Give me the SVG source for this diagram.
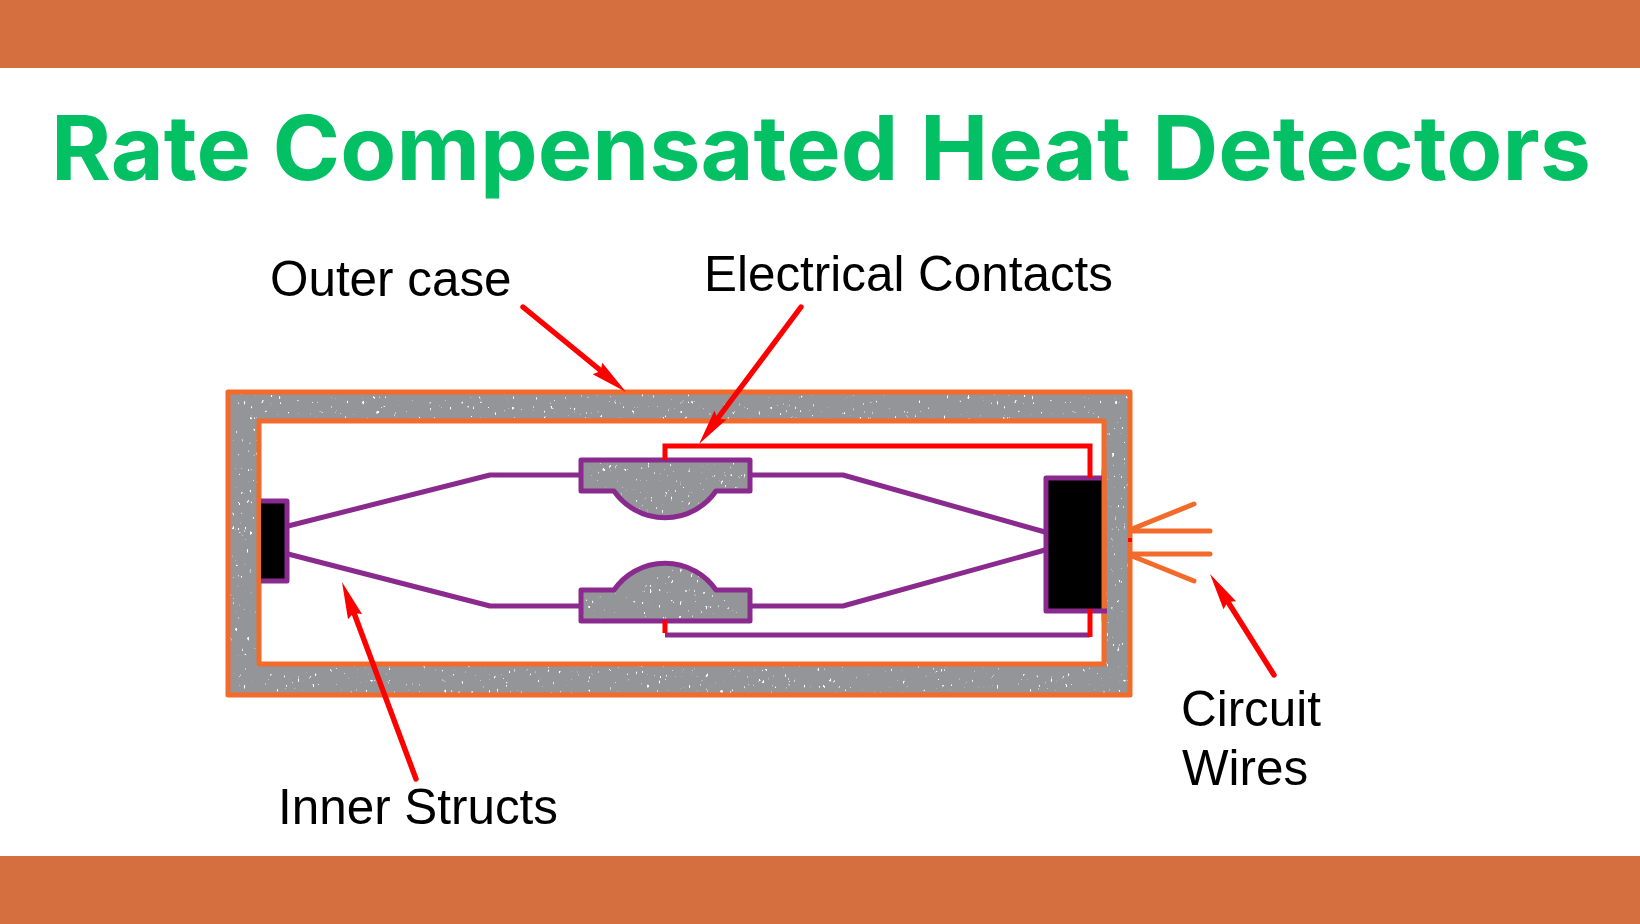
<svg xmlns="http://www.w3.org/2000/svg" width="1640" height="924" viewBox="0 0 1640 924">
<style>
.lbl{font-family:"Liberation Sans",Arial,sans-serif;font-size:49.4px;fill:#000}
.org{fill:none;stroke:#f26b2a;stroke-width:5;stroke-linecap:round;stroke-linejoin:round}
.pur{fill:none;stroke:#8a2a8e;stroke-width:5;stroke-linejoin:round}
.gf{fill:#939598;stroke:none;filter:url(#speck)}
.red{fill:none;stroke:#fe0000;stroke-width:5;stroke-linejoin:miter}
.ptr{stroke:#fe0000;stroke-width:5.4;stroke-linecap:round;fill:none}
.head{fill:#fe0000}
</style>
<defs>
<filter id="speck" x="-2%" y="-2%" width="104%" height="104%" color-interpolation-filters="sRGB">
<feTurbulence type="fractalNoise" baseFrequency="0.34 0.19" numOctaves="2" seed="7" result="n"/>
<feColorMatrix in="n" type="matrix" values="0 0 0 0 1  0 0 0 0 1  0 0 0 0 1  13 0 0 0 -9.3" result="w"/>
<feComposite in="w" in2="SourceAlpha" operator="in" result="flecks"/>
<feMerge><feMergeNode in="SourceGraphic"/><feMergeNode in="flecks"/></feMerge>
</filter>
<path id="shape-top" d="M581 460H750V491H716A62 62 0 0 1 614 491H581Z"/>
<path id="shape-bottom" d="M581 621H750V590H716A62 62 0 0 0 614 590H581Z"/>
</defs>
<rect id="bar-top" x="0" y="0" width="1640" height="68" fill="#d66f3f"/>
<rect id="bar-bottom" x="0" y="856" width="1640" height="68" fill="#d66f3f"/>
<text id="title" x="51" y="180" textLength="1540" lengthAdjust="spacingAndGlyphs" style="font-family:Inter,'Noto Sans',sans-serif;font-weight:700;font-size:89.5px;fill:#03c064">Rate Compensated Heat Detectors</text>
<g id="outer-case">
<path d="M228 392H1130V695H228ZM259 421V664H1104V421Z" fill="#939598" fill-rule="evenodd" filter="url(#speck)"/>
<rect class="org" x="228" y="392" width="902" height="303"/>
<rect class="org" x="259" y="421" width="845" height="243"/>
</g>
<g id="contact-top">
<use href="#shape-top" class="gf"/>
<use href="#shape-top" class="pur"/>
</g>
<g id="contact-bottom">
<use href="#shape-bottom" class="gf"/>
<use href="#shape-bottom" class="pur"/>
</g>
<g id="block-left">
<rect x="261" y="501" width="26" height="80" fill="#000"/>
<path class="pur" d="M261 501H287V581H261"/>
</g>
<g id="block-right">
<rect x="1046" y="478" width="57" height="132" fill="#000"/>
<path class="org" d="M1104 470V620"/>
<path class="pur" d="M1102 478H1046V611H1107"/>
</g>
<g id="connectors">
<path class="pur" d="M288 526L490 475H581"/>
<path class="pur" d="M288 554L490 606H581"/>
<path class="pur" d="M750 475H843L1045 532"/>
<path class="pur" d="M750 606H843L1045 550"/>
<path class="red" d="M665 460V446H1090V478"/>
<path class="pur" d="M665 635H1090"/>
<path class="red" d="M665 620V633M1090 637V609"/>
<path class="org" d="M1132 529L1194 504M1132 531H1210M1132 554H1210M1132 556L1194 581"/>
<rect x="1128" y="538" width="4" height="4" fill="#fe0000"/>
<line class="ptr" x1="523" y1="307" x2="600" y2="370"/>
<polygon class="head" points="626,392 592.7,374.3 600.6,371 602.3,362.7"/>
<line class="ptr" x1="801" y1="307" x2="718" y2="418"/>
<polygon class="head" points="699,444 714.5,410.5 717.5,419 726.5,419.5"/>
<line class="ptr" x1="416" y1="779" x2="354" y2="613"/>
<polygon class="head" points="342,582 362,614 353.6,612.9 348,619.2"/>
<line class="ptr" x1="1274" y1="675" x2="1228" y2="602"/>
<polygon class="head" points="1210,574 1236.1,601.3 1227.7,601.9 1223.5,609.3"/>
</g>
<g id="labels">
<text class="lbl" x="270" y="296">Outer case</text>
<text class="lbl" x="704" y="291">Electrical Contacts</text>
<text class="lbl" x="278" y="824">Inner Structs</text>
<text class="lbl" x="1181" y="726">Circuit</text>
<text class="lbl" x="1182" y="785">Wires</text>
</g>
</svg>
